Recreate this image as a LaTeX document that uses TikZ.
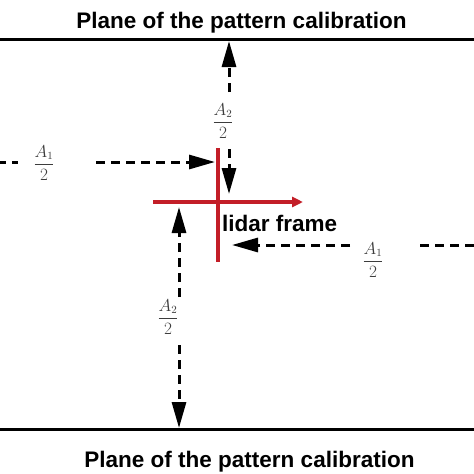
\documentclass[tikz,border=0pt]{standalone}
\usepackage{fontspec}
\setmainfont{Liberation Sans}
\usetikzlibrary{arrows.meta}
\definecolor{lidarred}{RGB}{195,30,40}
\definecolor{fracgray}{RGB}{60,60,60}
\tikzset{
  plane/.style={line width=3pt, black},
  dimline/.style={line width=3pt, dash pattern=on 9pt off 6pt, black},
  bigtip/.style={-{Triangle[length=26pt,width=14pt]}},
  title/.style={font=\fontsize{22.5}{26}\selectfont\bfseries, inner sep=0pt, anchor=base},
  fraclabel/.style={font=\fontsize{16}{19}\selectfont, text=fracgray, inner sep=0pt},
  axis/.style={line width=3.5pt, lidarred}
}
\begin{document}
\begin{tikzpicture}[x=1pt,y=-1pt]
\useasboundingbox (0,0) rectangle (474,474);
% planes
\coordinate (tl) at (0,39); \coordinate (tr) at (474,39);
\coordinate (bl) at (0,429); \coordinate (br) at (474,429);
\draw[plane] (tl) -- (tr);
\draw[plane] (bl) -- (br);
\node[title] (ttop) at (241.5,28) {Plane of the pattern calibration};
\node[title] (tbot) at (249.5,467) {Plane of the pattern calibration};
% lidar frame
\coordinate (vt) at (218,148); \coordinate (vb) at (218,262);
\coordinate (hl) at (153,202); \coordinate (hr) at (303,202);
\draw[axis] (vt) -- (vb);
\draw[axis,-{Triangle[length=11pt,width=10pt]}] (hl) -- (hr);
\node[title, anchor=base west] (lf) at (222,231) {lidar frame};
% top vertical dimension
\node[fraclabel] (fa) at (223,121) {$\displaystyle\frac{A_2}{2}$};
\coordinate (a1) at (229,92); \coordinate (a1t) at (229,41);
\coordinate (a2) at (229,149); \coordinate (a2t) at (229,194);
\draw[dimline,bigtip] (a1) -- (a1t);
\draw[dimline,bigtip] (a2) -- (a2t);
% left horizontal dimension
\node[fraclabel] (fb) at (44,163) {$\displaystyle\frac{A_1}{2}$};
\coordinate (b0) at (0,162); \coordinate (b1) at (18,162);
\coordinate (b2) at (96,162); \coordinate (b2t) at (215,162);
\draw[dimline,dash phase=3pt] (b0) -- (b1);
\draw[dimline,bigtip] (b2) -- (b2t);
% right horizontal dimension
\node[fraclabel] (fc) at (373,260) {$\displaystyle\frac{A_1}{2}$};
\coordinate (c1) at (350,245); \coordinate (c1t) at (232,245);
\coordinate (c2) at (420,245); \coordinate (c3) at (474,245);
\draw[dimline,bigtip] (c1) -- (c1t);
\draw[dimline] (c2) -- (c3);
% bottom vertical dimension
\node[fraclabel] (fd) at (168,317) {$\displaystyle\frac{A_2}{2}$};
\coordinate (d1) at (179,297); \coordinate (d1t) at (179,207);
\coordinate (d2) at (179,345); \coordinate (d2t) at (179,428);
\draw[dimline,bigtip] (d1) -- (d1t);
\draw[dimline,bigtip] (d2) -- (d2t);
\end{tikzpicture}
\end{document}
